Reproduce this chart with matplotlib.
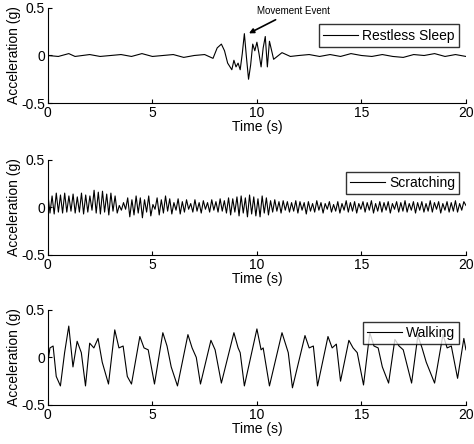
import numpy as np
import matplotlib.pyplot as plt

plt.rcParams['font.family'] = ['Liberation Sans', 'DejaVu Sans']
plt.rcParams['font.size'] = 10

# Restless sleep: keypoints (time, acceleration)
sleep_t = [0, 0.5, 1.0, 1.3, 2.0, 2.5, 3.0, 3.5, 4.0, 4.5, 5.0, 5.5, 6.0, 6.5, 7.0, 7.5, 7.9,
           8.1, 8.3, 8.45, 8.6, 8.8, 8.9, 9.0, 9.1, 9.2, 9.3, 9.4, 9.5, 9.6, 9.7, 9.8, 9.9,
           10.0, 10.1, 10.2, 10.3, 10.4, 10.5, 10.6, 10.8, 11.2, 11.6, 12.0, 12.5, 13.0, 13.5,
           14.0, 14.5, 15.0, 15.5, 16.0, 16.5, 17.0, 17.5, 18.0, 18.5, 19.0, 19.5, 20.0]
sleep_a = [0.0, -0.01, 0.02, -0.01, 0.01, -0.01, 0.0, 0.01, -0.01, 0.02, -0.01, 0.0, 0.01, -0.02, 0.0, 0.01, -0.03,
           0.08, 0.12, 0.05, -0.08, -0.15, -0.05, -0.12, -0.08, -0.15, 0.02, 0.23, -0.02, -0.25, -0.1, 0.12, 0.05,
           0.14, 0.02, -0.12, 0.08, 0.2, -0.12, 0.15, -0.04, 0.03, -0.01, 0.0, 0.01, -0.01, 0.01,
           -0.01, 0.02, 0.0, -0.01, 0.01, -0.01, -0.02, 0.01, 0.0, 0.02, -0.01, 0.01, -0.01]

# Scratching: successive peaks/troughs, 10 per second
scratch_a = [
    0.14, -0.06, 0.12, -0.07, 0.15, -0.05, 0.13, -0.06, 0.15, -0.05,
    0.12, -0.04, 0.14, -0.06, 0.11, -0.05, 0.15, -0.07, 0.13, -0.05,
    0.12, -0.03, 0.18, -0.06, 0.16, -0.07, 0.17, -0.05, 0.14, -0.08,
    0.15, -0.04, 0.12, -0.06, 0.02, -0.03, 0.05, -0.02, 0.10, -0.10,
    0.08, -0.08, 0.12, -0.06, 0.10, -0.11, 0.08, -0.05, 0.12, -0.09,
    0.03, -0.02, 0.10, -0.08, 0.08, -0.06, 0.12, -0.04, 0.09, -0.07,
    0.05, -0.03, 0.09, -0.07, 0.06, -0.05, 0.08, -0.02, 0.04, -0.05,
    0.08, -0.04, 0.05, -0.06, 0.07, -0.02, 0.05, -0.05, 0.08, -0.03,
    0.06, -0.05, 0.09, -0.04, 0.07, -0.06, 0.10, -0.08, 0.09, -0.05,
    0.11, -0.09, 0.12, -0.06, 0.10, -0.10, 0.13, -0.07, 0.11, -0.09,
    0.09, -0.10, 0.12, -0.06, 0.10, -0.08, 0.07, -0.05, 0.08, -0.04,
    0.06, -0.06, 0.07, -0.03, 0.06, -0.05, 0.05, -0.04, 0.07, -0.06,
    0.06, -0.03, 0.05, -0.07, 0.06, -0.04, 0.04, -0.05, 0.07, -0.03,
    0.05, -0.06, 0.04, -0.02, 0.06, -0.05, 0.03, -0.04, 0.06, -0.06,
    0.04, -0.03, 0.07, -0.05, 0.05, -0.04, 0.06, -0.06, 0.04, -0.02,
    0.06, -0.05, 0.05, -0.03, 0.07, -0.06, 0.04, -0.04, 0.06, -0.05,
    0.05, -0.03, 0.06, -0.06, 0.04, -0.02, 0.06, -0.05, 0.05, -0.04,
    0.07, -0.05, 0.04, -0.03, 0.06, -0.06, 0.05, -0.03, 0.06, -0.05,
    0.04, -0.04, 0.07, -0.05, 0.05, -0.02, 0.06, -0.06, 0.04, -0.03,
    0.06, -0.05, 0.05, -0.04, 0.07, -0.05, 0.04, -0.03, 0.06, 0.02,
]
scratch_t = np.linspace(0, 20, len(scratch_a))

# Walking: keypoints (time, acceleration)
walk_t = [0, 0.1, 0.25, 0.4, 0.6, 0.8, 1.0, 1.2, 1.4, 1.6, 1.8, 2.0, 2.2, 2.4, 2.6, 2.9,
          3.2, 3.4, 3.6, 3.8, 4.0, 4.4, 4.6, 4.8, 5.1, 5.5, 5.7, 5.9, 6.2, 6.7, 6.9, 7.1,
          7.3, 7.8, 8.0, 8.3, 8.9, 9.1, 9.2, 9.4, 10.0, 10.2, 10.3, 10.6, 11.2, 11.4, 11.5,
          11.7, 12.3, 12.5, 12.7, 12.9, 13.4, 13.6, 13.8, 14.0, 14.4, 14.6, 14.8, 15.1, 15.4,
          15.6, 15.8, 16.0, 16.3, 16.6, 16.8, 17.0, 17.4, 17.7, 17.9, 18.1, 18.5, 18.9, 19.1,
          19.3, 19.6, 19.9, 20.0]
walk_a = [-0.05, 0.1, 0.12, -0.2, -0.3, 0.05, 0.33, -0.1, 0.17, 0.05, -0.3, 0.15, 0.1, 0.2, -0.05, -0.28,
          0.29, 0.1, 0.12, -0.2, -0.28, 0.22, 0.1, 0.08, -0.28, 0.26, 0.12, -0.1, -0.3, 0.24, 0.1, 0.0,
          -0.28, 0.18, 0.08, -0.27, 0.26, 0.1, 0.05, -0.3, 0.3, 0.08, 0.1, -0.3, 0.26, 0.12, 0.05,
          -0.32, 0.23, 0.1, 0.12, -0.3, 0.22, 0.1, 0.14, -0.25, 0.18, 0.1, 0.05, -0.29, 0.26,
          0.12, 0.1, -0.1, -0.27, 0.19, 0.12, 0.08, -0.27, 0.23, 0.1, -0.05, -0.27, 0.24, 0.1,
          0.12, -0.22, 0.2, 0.08]

fig = plt.figure(figsize=(4.74, 4.44), dpi=100)
bottoms = [0.768, 0.426, 0.088]
axes = [fig.add_axes([0.101, b, 0.882, 0.214]) for b in bottoms]
series = [(sleep_t, sleep_a, 'Restless Sleep'),
          (scratch_t, scratch_a, 'Scratching'),
          (walk_t, walk_a, 'Walking')]
for ax, (t, a, name) in zip(axes, series):
    ax.plot(t, a, color='black', lw=0.8, label=name)
    ax.set_xlim(0, 20)
    ax.set_ylim(-0.5, 0.5)
    ax.set_xticks([0, 5, 10, 15, 20])
    ax.set_yticks([-0.5, 0, 0.5])
    ax.set_yticklabels(['-0.5', '0', '0.5'])
    ax.spines['top'].set_visible(False)
    ax.spines['right'].set_visible(False)
    ax.tick_params(direction='in', length=3, pad=2)
    ax.set_xlabel('Time (s)', labelpad=0)
    ax.set_ylabel('Acceleration (g)', labelpad=0)
    ax.legend(loc='upper right', fancybox=False, edgecolor='black',
              handlelength=2.5, borderpad=0.3, handletextpad=0.3,
              bbox_to_anchor=(1.0, 0.9 if name == 'Restless Sleep' else 0.95))

axes[0].annotate('Movement Event', xy=(9.5, 0.22), xytext=(10.0, 0.44),
                 fontsize=7, annotation_clip=False,
                 arrowprops=dict(arrowstyle='-|>', color='black', lw=1.2))

plt.savefig('out.png')
